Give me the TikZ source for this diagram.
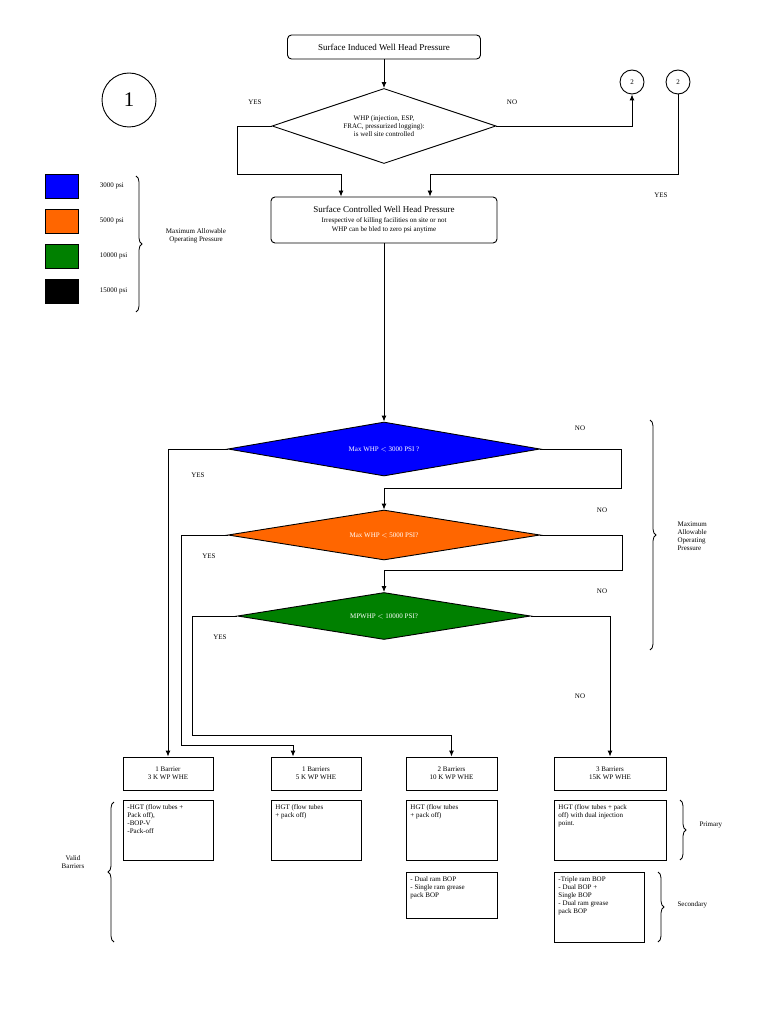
\documentclass[tikz,border=0pt]{standalone}
\usepackage{fontspec}
\setmainfont{Liberation Serif}
\usepackage{tikz}
\usetikzlibrary{positioning, calc, shapes.geometric, arrows.meta, decorations.pathreplacing}
\definecolor{pblue}{RGB}{0,0,255}
\definecolor{porange}{RGB}{255,102,0}
\definecolor{pgreen}{RGB}{0,128,0}
\tikzstyle{Arrow} = [line width=0.9pt, -{Latex[length=6pt,width=5pt]}]
\tikzstyle{Round} = [draw, line width=0.9pt, rounded corners=4pt, align=center, inner sep=3pt]
\tikzstyle{Dec} = [draw, line width=0.9pt, diamond, aspect=4.2, inner sep=0pt, align=center, font=\scriptsize]
\tikzstyle{Box} = [draw, line width=0.9pt, rectangle, align=center, font=\scriptsize, inner sep=0pt]
\tikzstyle{Cell} = [draw, line width=0.9pt, rectangle, anchor=north west, inner sep=4pt, font=\scriptsize]
\tikzstyle{Lab} = [font=\scriptsize, align=center]
\tikzstyle{Brace} = [line width=0.8pt, decorate, decoration={brace, amplitude=6pt}]
\newcommand{\cellbox}[3]{\parbox[t][#2][t]{#1}{\raggedright #3}}

\begin{document}
\begin{tikzpicture}[x=1pt, y=-1pt]
    \useasboundingbox (0,0) rectangle (768,1024);
    % top part
    \node [Round, minimum width=193pt, minimum height=24pt, font=\small] (top) at (384,47) {Surface Induced Well Head Pressure};
    \node [Dec, minimum width=224pt, minimum height=75pt] (d0) at (384,126) {WHP (injection, ESP,\\FRAC, pressurized logging):\\is well site controlled};
    \node [draw, line width=0.9pt, circle, minimum size=54pt, font=\huge] (c1) at (129,100) {1};
    \node [draw, line width=0.9pt, circle, minimum size=24pt, inner sep=0pt, font=\scriptsize] (c2a) at (632,82) {2};
    \node [draw, line width=0.9pt, circle, minimum size=24pt, inner sep=0pt, font=\scriptsize] (c2b) at (678,82) {2};
    \node [Round, minimum width=226pt, minimum height=46pt, inner sep=2pt] (scw) at (384,220) {\small Surface Controlled Well Head Pressure\\[-2pt]
        \scriptsize Irrespective of killing facilities on site or not\\[-3pt] \scriptsize WHP can be bled to zero psi anytime};
    \node [Lab] (y0) at (255,102) {YES};
    \node [Lab] (n0) at (512,102) {NO};
    \node [Lab] (y1) at (661,195) {YES};

    \draw[Arrow] (top.south) -- (d0.north);
    \draw[Arrow] (d0.east) -| (c2a.south);
    \draw[Arrow] (d0.west) -| (237,174) -| ($(scw.north)+(-43,0)$);
    \draw[Arrow] (c2b.south) |- (430,174) -- ($(scw.north)+(46,0)$);

    % legend
    \foreach \c/\p [count=\i] in {pblue/3000, porange/5000, pgreen/10000, black/15000}{
        \node [draw, line width=0.9pt, fill=\c, minimum width=33pt, minimum height=24pt, inner sep=0pt] (sq\i) at (61.5,151+35*\i) {};
        \node [Lab, right=18pt of sq\i] (sl\i) {\p\ psi};
    }
    \draw[Brace] (136,176) -- (136,312);
    \node [Lab] (mop) at (196,236) {Maximum Allowable\\Operating Pressure};

    % pressure checks
    \node [Dec, fill=pblue, minimum width=312pt, minimum height=54pt, text=white] (d1) at (384,449) {Max WHP $<$ 3000 PSI ?};
    \node [Dec, fill=porange, minimum width=312pt, minimum height=50pt, text=white] (d2) at (384,535) {Max WHP $<$ 5000 PSI?};
    \node [Dec, fill=pgreen, minimum width=293pt, minimum height=47pt, text=white] (d3) at (384,616) {MPWHP $<$ 10000 PSI?};
    \draw[Arrow] (scw.south) -- (d1.north);

    \node [Lab] (n1) at (580,428) {NO};
    \node [Lab] (n2) at (602,510) {NO};
    \node [Lab] (n3) at (602,591) {NO};
    \node [Lab] (n4) at (580,696) {NO};
    \node [Lab] (y2) at (198,475) {YES};
    \node [Lab] (y3) at (209,556) {YES};
    \node [Lab] (y4) at (220,637) {YES};

    \draw[Brace] (650,420) -- (650,650);
    \node [Lab, align=left, anchor=west] (mop2) at (674,536) {Maximum\\Allowable\\Operating\\Pressure};

    % barrier boxes
    \node [Box, minimum width=90pt, minimum height=33pt] (b1) at (168,773.5) {1 Barrier\\3 K WP WHE};
    \node [Box, minimum width=90pt, minimum height=33pt] (b2) at (316,773.5) {1 Barriers\\5 K WP WHE};
    \node [Box, minimum width=91pt, minimum height=33pt] (b3) at (451.5,773.5) {2 Barriers\\10 K WP WHE};
    \node [Box, minimum width=112pt, minimum height=33pt] (b4) at (610,773.5) {3 Barriers\\15K WP WHE};

    \draw[Arrow] (d1.west) -| (b1.north);
    \draw[Arrow] (d1.east) -| (621,488) -| (d2.north);
    \draw[Arrow] (d2.west) -| (181,745) -| ($(b2.north)+(-23,0)$);
    \draw[Arrow] (d2.east) -| (622,570) -| (d3.north);
    \draw[Arrow] (d3.west) -| (192,735) -| (b3.north);
    \draw[Arrow] (d3.east) -| (b4.north);

    \node [Cell] (p1) at (123,800) {\cellbox{82pt}{52pt}{-HGT (flow tubes +\\Pack off),\\-BOP-V\\-Pack-off}};
    \node [Cell] (p2) at (271,800) {\cellbox{82pt}{52pt}{HGT (flow tubes\\+ pack off)}};
    \node [Cell] (p3) at (406,800) {\cellbox{83pt}{52pt}{HGT (flow tubes\\+ pack off)}};
    \node [Cell] (p4) at (554,800) {\cellbox{104pt}{52pt}{HGT (flow tubes + pack\\off) with dual injection\\point.}};
    \node [Cell] (s3) at (406,872) {\cellbox{83pt}{38pt}{- Dual ram BOP\\- Single ram grease\\pack BOP}};
    \node [Cell] (s4) at (554,872) {\cellbox{82pt}{62pt}{-Triple ram BOP\\- Dual BOP +\\Single BOP\\- Dual ram grease\\pack BOP}};

    \draw[Brace] (114,942) -- (114,802);
    \node [Lab] (vb) at (73,862) {Valid\\Barriers};
    \draw[Brace] (680,800) -- (680,860);
    \node [Lab, anchor=west] (pr) at (696,825) {Primary};
    \draw[Brace] (658,872) -- (658,942);
    \node [Lab, anchor=west] (se) at (674,905) {Secondary};
\end{tikzpicture}
\end{document}
